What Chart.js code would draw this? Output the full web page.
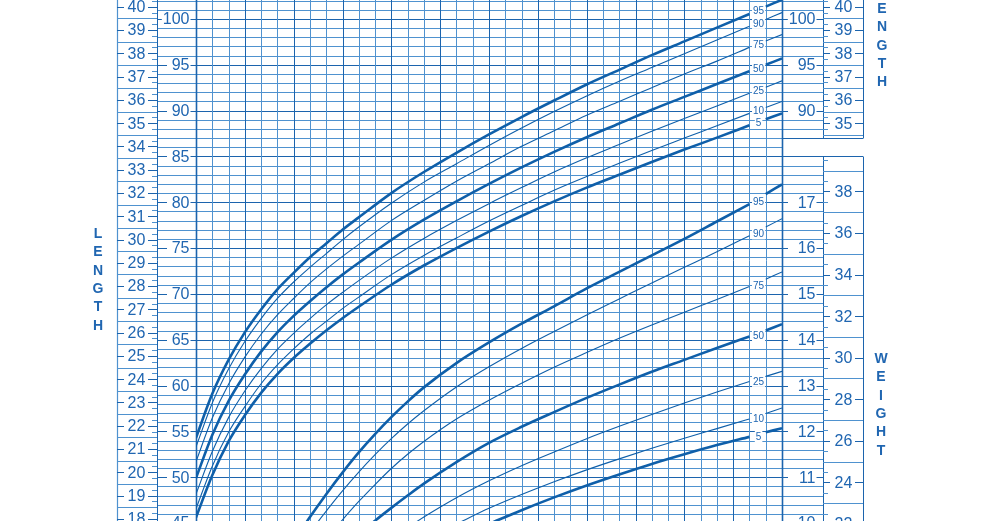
<!DOCTYPE html>
<html><head><meta charset="utf-8">
<script src="https://cdn.jsdelivr.net/npm/chart.js@4.4.1/dist/chart.umd.min.js"></script>
<style>html,body{margin:0;padding:0;background:#fff;overflow:hidden}canvas{display:block}</style>
</head><body>
<canvas id="c" width="992" height="521"></canvas>
<script>
// ---------- DATA ----------
const percentileNames = ['5','10','25','50','75','90','95'];
const lengthAges = [0,1,2,3,4,5,6,7,8,9,10,12,14,16,18,20,22,24,26,28,30,32,34,34.5,35,36];
const lenP5  = [45.6,50.2,53.9,56.75,59.2,61.25,63.0,64.55,66.0,67.35,68.6,71.0,73.1,75.0,76.8,78.5,80.1,81.6,83.0,84.4,85.75,87.05,88.4,null,89.05,89.7];
const lenP10 = [46.55,51.2,54.9,57.7,60.2,62.25,64.0,65.6,67.0,68.4,69.65,72.1,74.2,76.1,77.95,79.65,81.3,82.8,84.25,85.65,87.0,88.35,89.7,null,90.35,91.0];
const lenP25 = [48.15,52.8,56.5,59.4,61.85,63.95,65.7,67.3,68.8,70.15,71.45,73.9,76.05,78.0,79.85,81.6,83.3,84.85,86.3,87.75,89.15,90.5,91.9,null,92.55,93.25];
const lenP50 = [49.9,54.6,58.3,61.2,63.7,65.8,67.6,69.2,70.7,72.1,73.4,75.9,78.1,80.1,82.0,83.8,85.5,87.1,88.6,90.1,91.5,92.9,94.3,null,95.0,95.7];
const lenP75 = [51.7,56.45,60.15,63.1,65.6,67.7,69.5,71.2,72.7,74.1,75.4,78.0,80.2,82.3,84.2,86.1,87.8,89.5,91.0,92.5,94.0,95.4,96.9,null,97.6,98.3];
const lenP90 = [53.3,58.1,61.8,64.8,67.3,69.5,71.3,72.9,74.4,75.9,77.3,79.9,82.2,84.2,86.2,88.1,89.9,91.6,93.2,94.7,96.2,97.7,99.2,null,99.95,100.7];
const lenP95 = [54.3,59.1,62.8,65.8,68.3,70.5,72.3,74.0,75.5,77.0,78.35,81.0,83.3,85.4,87.4,89.3,91.1,92.85,94.45,96.05,97.55,99.05,100.55,null,101.35,102.1];

const weightAges = [6,7,8,9,10,11,12,13,14,16,18,20,22,24,26,28,30,32,34,34.5,35,36];
const wtP5  = [null,null,null,null,null,null,null,null,null,null,9.98,10.28,10.56,10.82,11.06,11.29,11.5,11.7,11.88,null,11.98,12.07];
const wtP10 = [null,null,null,null,null,null,null,null,null,9.98,10.32,10.62,10.9,11.16,11.4,11.63,11.85,12.06,12.27,null,12.39,12.51];
const wtP25 = [null,null,null,null,null,null,null,9.9,10.13,10.55,10.92,11.25,11.55,11.84,12.11,12.37,12.62,12.86,13.09,null,13.2,13.31];
const wtP50 = [null,null,null,null,9.75,10.05,10.33,10.6,10.86,11.33,11.75,12.1,12.42,12.73,13.02,13.3,13.56,13.82,14.07,null,14.2,14.34];
const wtP75 = [null,null,9.65,10.07,10.47,10.84,11.19,11.5,11.78,12.27,12.68,13.05,13.4,13.72,14.03,14.32,14.6,14.88,15.16,null,15.32,15.48];
const wtP90 = [null,9.8,10.26,10.7,11.11,11.49,11.84,12.16,12.45,12.97,13.41,13.81,14.18,14.54,14.89,15.24,15.58,15.92,16.27,null,16.46,16.64];
const wtP95 = [9.6,10.13,10.63,11.1,11.54,11.94,12.31,12.65,12.96,13.49,13.94,14.35,14.73,15.12,15.48,15.84,16.2,16.58,16.96,null,17.18,17.39];

const cmTickLabels = [100,95,90,85,80,75,70,65,60,55,50,45];
const inchTickLabels = [40,39,38,37,36,35,34,33,32,31,30,29,28,27,26,25,24,23,22,21,20,19,18];
const rightCmLabels = [100,95,90];
const rightInchLabels = [40,39,38,37,36,35];
const kgTickLabels = [17,16,15,14,13,12,11,10];
const lbTickLabels = [38,36,34,32,30,28,26,24,22];
const lengthTitle = 'LENGTH';
const weightTitle = 'WEIGHT';

// ---------- STYLE ----------
const TEXT = '#2066b1';
const CURVE = '#0f5fa9';
const GRID = '#4f92cf';
const GRID_DARK = '#1c64ad';
const FONT = '"Liberation Sans", Arial, Helvetica, sans-serif';

const cmMax = 102.07, cmMin = 45.22;
const inchShift = 0.105;
const kgOfCm = c => (c - 80) / 5 + 17;
const P = {inL:117, inR:157, cmR:823, edge:863, lenBottomCm:87, wtTopCm:85};

const crisp = v => Math.round(v) + 0.5;
function hline(ctx,x1,x2,y,color,w){ctx.strokeStyle=color;ctx.lineWidth=w;ctx.beginPath();ctx.moveTo(x1,y);ctx.lineTo(x2,y);ctx.stroke();}
function vline(ctx,x,y1,y2,color,w){ctx.strokeStyle=color;ctx.lineWidth=w;ctx.beginPath();ctx.moveTo(x,y1);ctx.lineTo(x,y2);ctx.stroke();}

const gridPlugin = {
  id:'cdcGrid',
  beforeDatasetsDraw(chart){
    const ctx = chart.ctx, ca = chart.chartArea;
    const xs = chart.scales.x, ys = chart.scales.y, yIn = chart.scales.yIn, yLb = chart.scales.yLb;
    const top = ca.top, bot = ca.bottom, pl = ca.left, pr = ca.right;
    ctx.save();
    const yLenBot = crisp(ys.getPixelForValue(P.lenBottomCm));
    const yWtTop = crisp(ys.getPixelForValue(P.wtTopCm));
    for (let c = 46; c <= 102; c++) {
      const y = crisp(ys.getPixelForValue(c));
      const major = c % 5 === 0;
      hline(ctx, pl, pr, y, major ? GRID_DARK : GRID, 1);
      if (!major) hline(ctx, P.inR, pl, y, GRID, 1);
      else { hline(ctx, P.inR, P.inR + 10, y, GRID_DARK, 1); hline(ctx, pl - 6, pl, y, GRID_DARK, 1); }
      if (c >= P.lenBottomCm || c <= P.wtTopCm) {
        if (c === P.lenBottomCm || c === P.wtTopCm) hline(ctx, pr, P.edge, y, GRID_DARK, 1);
        else if (!major) hline(ctx, pr, P.cmR, y, GRID, 1);
        else { hline(ctx, pr, pr + 6, y, GRID_DARK, 1); hline(ctx, P.cmR - 7, P.cmR, y, GRID_DARK, 1); }
      }
    }
    for (let m = 0; m <= 36; m++) {
      const x = crisp(xs.getPixelForValue(m));
      vline(ctx, x, top, bot, m % 3 === 0 ? GRID_DARK : GRID, (m === 0 || m === 36) ? 1.6 : 1);
    }
    vline(ctx, P.inL + 0.5, top, bot, GRID, 1.2);
    vline(ctx, P.inR + 0.5, top, bot, GRID_DARK, 1);
    [P.cmR, P.edge].forEach(x => { vline(ctx, x + 0.5, top, yLenBot, GRID_DARK, 1); vline(ctx, x + 0.5, yWtTop, bot, GRID_DARK, 1); });
    for (let q = 17.75; q <= 40.5; q += 0.25) {
      const y = crisp(yIn.getPixelForValue(q));
      const frac = q - Math.floor(q);
      if (frac === 0) { hline(ctx, P.inL, P.inL + 7, y, GRID_DARK, 1); hline(ctx, P.inR - 9, P.inR, y, GRID_DARK, 1); }
      else if (frac === 0.5) hline(ctx, P.inL, P.inR, y, GRID, 1);
      else hline(ctx, P.inR - 5, P.inR, y, GRID, 1);
    }
    for (let q = 34.5; q <= 40.5; q += 0.25) {
      const yv = yIn.getPixelForValue(q);
      if (yv > yLenBot - 1) continue;
      const y = crisp(yv);
      const frac = q - Math.floor(q);
      if (frac === 0) { hline(ctx, P.cmR, P.cmR + 7, y, GRID_DARK, 1); hline(ctx, P.edge - 8, P.edge, y, GRID_DARK, 1); }
      else if (frac === 0.5) hline(ctx, P.cmR, P.edge, y, GRID, 1);
      else hline(ctx, P.cmR, P.cmR + 5, y, GRID, 1);
    }
    for (let q = 21.5; q <= 40; q += 0.5) {
      const yv = yLb.getPixelForValue(q);
      if (yv < yWtTop + 1) continue;
      const y = crisp(yv);
      const r = q % 2;
      if (r === 0) { hline(ctx, P.cmR, P.cmR + 7, y, GRID_DARK, 1); hline(ctx, P.edge - 8, P.edge, y, GRID_DARK, 1); }
      else if (r === 1) hline(ctx, P.cmR, P.edge, y, GRID, 1);
      else hline(ctx, P.cmR, P.cmR + 5, y, GRID, 1);
    }
    ctx.restore();
  },
  afterDatasetsDraw(chart){
    const ctx = chart.ctx, ca = chart.chartArea;
    const xs = chart.scales.x, ys = chart.scales.y, yW = chart.scales.yW, yIn = chart.scales.yIn, yLb = chart.scales.yLb;
    ctx.save();
    ctx.textBaseline = 'middle';
    function label(text, x, y, font, align){
      ctx.font = font;
      ctx.textAlign = align || 'center';
      const w = ctx.measureText(text).width;
      const x0 = align === 'right' ? x - w : (align === 'left' ? x : x - w / 2);
      ctx.fillStyle = '#fff';
      ctx.fillRect(x0 - 1, y - 6, w + 2, 12);
      ctx.fillStyle = TEXT;
      ctx.fillText(text, x, y + 1);
    }
    const big = '16px ' + FONT;
    cmTickLabels.forEach(v => label(String(v), 189.5, ys.getPixelForValue(v), big, 'right'));
    const inX = (P.inL + P.inR) / 2 - 0.5;
    inchTickLabels.forEach(v => label(String(v), inX, yIn.getPixelForValue(v), big));
    rightCmLabels.forEach(v => label(String(v), 815.5, ys.getPixelForValue(v), big, 'right'));
    kgTickLabels.forEach(v => label(String(v), 815.5, yW.getPixelForValue(v), big, 'right'));
    const rInX = (P.cmR + P.edge) / 2 + 0.5;
    rightInchLabels.forEach(v => label(String(v), rInX, yIn.getPixelForValue(v), big));
    lbTickLabels.forEach(v => label(String(v), rInX, yLb.getPixelForValue(v), big));

    const lx = xs.getPixelForValue(34.5) + 1;
    const small = '10px ' + FONT;
    chart.data.datasets.forEach(ds => {
      const pts = ds.data;
      const a = pts.find(p => p.x === 34), b = pts.find(p => p.x === 35);
      const sc = chart.scales[ds.yAxisID];
      const off = ds.yAxisID === 'yW' ? 2 : 0;
      const y = (sc.getPixelForValue(a.y) + sc.getPixelForValue(b.y)) / 2 + off;
      label(ds.pct, lx, y, small);
    });

    ctx.font = 'bold 14px ' + FONT;
    ctx.textAlign = 'center';
    ctx.fillStyle = TEXT;
    const gap = 18.4;
    lengthTitle.split('').forEach((ch, i) => ctx.fillText(ch, 98, 234 + i * gap));
    lengthTitle.split('').forEach((ch, i) => ctx.fillText(ch, 882, -9.4 + i * gap));
    weightTitle.split('').forEach((ch, i) => ctx.fillText(ch, 881, 359 + i * gap));
    ctx.restore();
  }
};

const lenSeries = [lenP5, lenP10, lenP25, lenP50, lenP75, lenP90, lenP95];
const wtSeries = [wtP5, wtP10, wtP25, wtP50, wtP75, wtP90, wtP95];
const boldSet = {'5':true, '50':true, '95':true};
const datasets = [];
percentileNames.forEach((p, i) => {
  const common = {borderColor: CURVE, borderWidth: boldSet[p] ? 2.6 : 1.1, pointRadius: 0, fill: false,
    cubicInterpolationMode: 'monotone', spanGaps: false, pct: p};
  datasets.push(Object.assign({label: 'Length P' + p, yAxisID: 'y',
    data: lengthAges.map((a, j) => ({x: a, y: lenSeries[i][j]}))}, common));
  datasets.push(Object.assign({label: 'Weight P' + p, yAxisID: 'yW',
    data: weightAges.map((a, j) => ({x: a, y: wtSeries[i][j]}))}, common));
});

new Chart(document.getElementById('c'), {
  type: 'line',
  data: {datasets},
  options: {
    responsive: false, animation: false, devicePixelRatio: 1,
    layout: {padding: {left: 196, right: 210, top: 0, bottom: 0}},
    plugins: {legend: {display: false}, tooltip: {enabled: false}},
    events: [],
    scales: {
      x: {type: 'linear', min: 0, max: 36, display: false},
      y: {type: 'linear', min: cmMin, max: cmMax, display: false},
      yW: {type: 'linear', axis: 'y', min: kgOfCm(cmMin), max: kgOfCm(cmMax), display: false},
      yIn: {type: 'linear', axis: 'y', min: cmMin / 2.54 + inchShift, max: cmMax / 2.54 + inchShift, display: false},
      yLb: {type: 'linear', axis: 'y', min: kgOfCm(cmMin) * 2.20462, max: kgOfCm(cmMax) * 2.20462, display: false}
    }
  },
  plugins: [gridPlugin]
});
</script>
</body></html>
